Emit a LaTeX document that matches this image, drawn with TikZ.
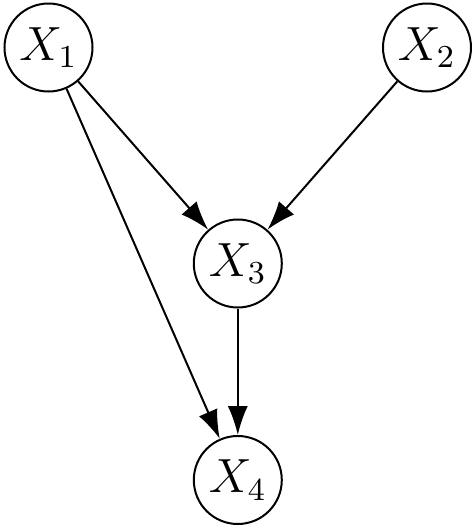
\documentclass[tikz,border=0pt]{standalone}
\usetikzlibrary{arrows.meta}
\begin{document}
\begin{tikzpicture}[x=1pt,y=1pt,
  var/.style={circle,draw,line width=0.5pt,minimum size=22pt,inner sep=0pt,font=\fontsize{11.5}{13}\selectfont},
  edge/.style={line width=0.5pt,-{Latex[length=7.2pt,width=5pt]}}]
\useasboundingbox (0,0) rectangle (118.5,132);
\node[var] (x1) at (12.125,120.125) {$X_1$};
\node[var] (x2) at (106.75,120.125) {$X_2$};
\node[var] (x3) at (59.45,66.125) {$X_3$};
\node[var] (x4) at (59.45,12) {$X_4$};
\draw[edge] (x1) -- (x3);
\draw[edge] (x2) -- (x3);
\draw[edge] (x1) -- (x4);
\draw[edge] (x3) -- (x4);
\end{tikzpicture}
\end{document}
